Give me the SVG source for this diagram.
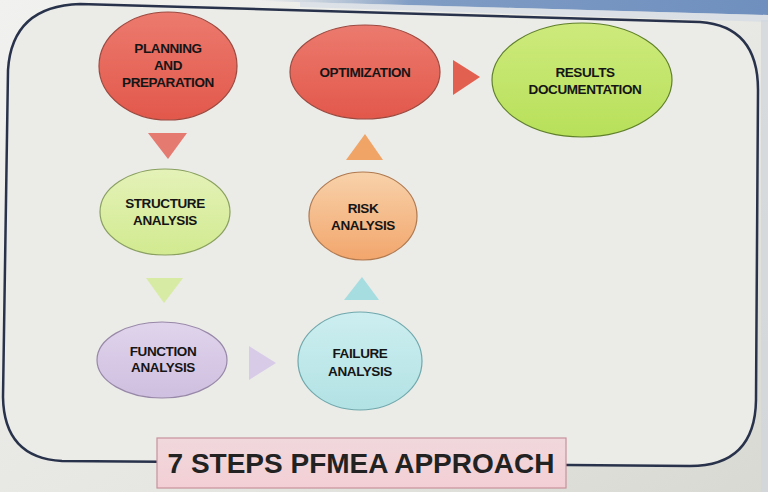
<svg xmlns="http://www.w3.org/2000/svg" width="768" height="492" viewBox="0 0 768 492">
<defs>
<linearGradient id="bg" x1="0" y1="0" x2="1" y2="1">
<stop offset="0" stop-color="#f1f1ef"/>
<stop offset="0.6" stop-color="#e6e6e2"/>
<stop offset="1" stop-color="#d9d9d3"/>
</linearGradient>
<linearGradient id="red" x1="0" y1="0" x2="0" y2="1">
<stop offset="0" stop-color="#ec7a6e"/>
<stop offset="1" stop-color="#e2584b"/>
</linearGradient>
<linearGradient id="lime" x1="0" y1="0" x2="0" y2="1">
<stop offset="0" stop-color="#cdea7c"/>
<stop offset="1" stop-color="#b8e05a"/>
</linearGradient>
<linearGradient id="lgreen" x1="0" y1="0" x2="0" y2="1">
<stop offset="0" stop-color="#e4f2b8"/>
<stop offset="1" stop-color="#d2ea90"/>
</linearGradient>
<linearGradient id="peach" x1="0" y1="0" x2="0" y2="1">
<stop offset="0" stop-color="#f8d2aa"/>
<stop offset="1" stop-color="#f2a66c"/>
</linearGradient>
<linearGradient id="lav" x1="0" y1="0" x2="0" y2="1">
<stop offset="0" stop-color="#e0d4ec"/>
<stop offset="1" stop-color="#cfbfe0"/>
</linearGradient>
<linearGradient id="cyan" x1="0" y1="0" x2="0" y2="1">
<stop offset="0" stop-color="#cdeef0"/>
<stop offset="1" stop-color="#b2e2e4"/>
</linearGradient>
<linearGradient id="title" x1="0" y1="0" x2="0" y2="1">
<stop offset="0" stop-color="#f0d8dc"/>
<stop offset="1" stop-color="#f3cfd5"/>
</linearGradient>
<linearGradient id="bar" x1="0" y1="0" x2="1" y2="0">
<stop offset="0" stop-color="#8ea6c6" stop-opacity="0"/>
<stop offset="0.3" stop-color="#7f9cc4"/>
<stop offset="1" stop-color="#6f8fbe"/>
</linearGradient>
</defs>
<style>
.lbl{font-family:"Liberation Sans",Arial,sans-serif;font-weight:bold;font-size:13.5px;fill:#151515;text-anchor:middle;letter-spacing:-0.4px}
.node ellipse{stroke-width:1.2}
.tri{stroke:none}
</style>
<rect x="0" y="0" width="768" height="492" fill="url(#bg)"/>
<polygon points="260,0 768,0 768,15 260,1" fill="url(#bar)"/>
<polygon points="300,2 768,15 768,22 300,7" fill="#d3dbe4" opacity="0.7"/>
<rect x="761" y="20" width="7" height="472" fill="#d0d6dc" opacity="0.7"/>
<path d="M 80,4 L 700,22 Q 758,26 758,90 L 756,400 Q 755,466 690,466 L 62,461 Q 4,458 3,397 L 8,70 Q 12,6 80,4 Z" fill="#ebebe8" stroke="#28324a" stroke-width="2.5"/>
<g id="connectors">
<polygon class="tri" points="148,133 187,133 168,159" fill="#e57a70"/>
<polygon class="tri" points="346,160 383,160 365,134" fill="#f0a466"/>
<polygon class="tri" points="453,60 453,95 480,77" fill="#e2604f"/>
<polygon class="tri" points="146,278 183,278 164,303" fill="#d8eba4"/>
<polygon class="tri" points="344,300 379,300 362,277" fill="#a6dde0"/>
<polygon class="tri" points="249,346 249,380 276,363" fill="#d8cbe8"/>
</g>
<g id="planning" class="node">
<ellipse cx="168" cy="66" rx="69" ry="54" fill="url(#red)" stroke="#9c4a40"/>
<text class="lbl" x="168" y="53">PLANNING</text>
<text class="lbl" x="168" y="70">AND</text>
<text class="lbl" x="168" y="87">PREPARATION</text>
</g>
<g id="optimization" class="node">
<ellipse cx="365" cy="72" rx="75" ry="47" fill="url(#red)" stroke="#9c4a40"/>
<text class="lbl" x="365" y="77">OPTIMIZATION</text>
</g>
<g id="results" class="node">
<ellipse cx="582" cy="80" rx="90" ry="57" fill="url(#lime)" stroke="#60802c"/>
<text class="lbl" x="585" y="77">RESULTS</text>
<text class="lbl" x="585" y="94">DOCUMENTATION</text>
</g>
<g id="structure" class="node">
<ellipse cx="165" cy="212" rx="65" ry="43" fill="url(#lgreen)" stroke="#8aa060"/>
<text class="lbl" x="165" y="208">STRUCTURE</text>
<text class="lbl" x="165" y="225">ANALYSIS</text>
</g>
<g id="risk" class="node">
<ellipse cx="363" cy="216" rx="54" ry="44" fill="url(#peach)" stroke="#b07a50"/>
<text class="lbl" x="363" y="213">RISK</text>
<text class="lbl" x="363" y="230">ANALYSIS</text>
</g>
<g id="function" class="node">
<ellipse cx="162" cy="360" rx="65" ry="38" fill="url(#lav)" stroke="#9888a8"/>
<text class="lbl" x="163" y="356">FUNCTION</text>
<text class="lbl" x="163" y="372">ANALYSIS</text>
</g>
<g id="failure" class="node">
<ellipse cx="360" cy="361" rx="62" ry="49" fill="url(#cyan)" stroke="#70a8ac"/>
<text class="lbl" x="360" y="358">FAILURE</text>
<text class="lbl" x="360" y="376">ANALYSIS</text>
</g>
<g id="title-box">
<rect x="157" y="438" width="409" height="50" fill="url(#title)" stroke="#c8929c" stroke-width="1.2"/>
<text x="361" y="473" font-family="'Liberation Sans',Arial,sans-serif" font-weight="bold" font-size="28" fill="#222" text-anchor="middle">7 STEPS PFMEA APPROACH</text>
</g>
</svg>
